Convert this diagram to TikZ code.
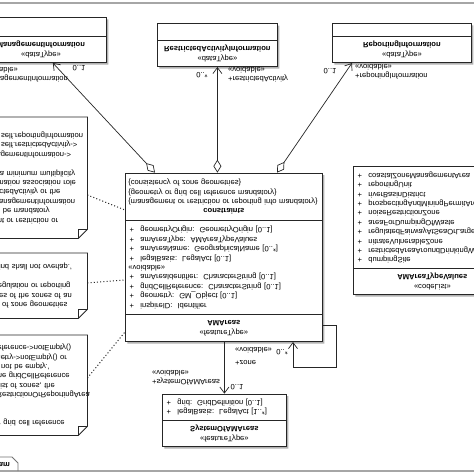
\documentclass[tikz,border=0pt]{standalone}
\usepackage{fontspec}
\setmainfont{Liberation Sans}
\usetikzlibrary{shapes.multipart,positioning,arrows.meta,calc,shadows}
\setlength{\parindent}{0pt}

\newcommand{\umlfont}{\fontsize{7.6}{9.4}\selectfont}
\newcommand{\attr}[2]{\makebox[12pt][l]{\,+}#1:\ \ #2}
\newcommand{\lit}[1]{\makebox[12pt][l]{\,+}#1}
\newcommand{\classname}[2]{{\centering #1\\\textbf{#2}\par}}
\newcommand{\umlnoteframe}[1]{%
    \draw[noteline] (#1.south west) -- (#1.south east) -- ($(#1.north east)+(0,-9)$)
        -- ($(#1.north east)+(-9,0)$) -- (#1.north west) -- cycle;
    \draw[noteline] ($(#1.north east)+(0,-9)$) -- ($(#1.north east)+(-9,-9)$) -- ($(#1.north east)+(-9,0)$);
}

\begin{document}
\begin{tikzpicture}[
    x=1pt, y=1pt, yscale=-1,
    every node/.append style={transform shape, font=\umlfont},
    classbox/.style ={
        rectangle split,
        rectangle split parts=2,
        draw=black!85,
        line width=0.8pt,
        fill=white,
        inner xsep=3pt,
        inner ysep=4.5pt,
        align=left,
        drop shadow={shadow xshift=2pt, shadow yshift=-2pt, fill=black!30, opacity=1}
    },
    notebox/.style ={
        text width=131pt,
        align=left,
        inner xsep=4pt,
        anchor=south west
    },
    noteline/.style={draw=black!85, line width=0.8pt},
    assoc/.style={draw=black!85, line width=0.7pt, -{Straight Barb[length=6pt,width=9pt]}},
    aggr/.style={assoc, {Diamond[open,length=13pt,width=8pt]}-{Straight Barb[length=6pt,width=9pt]}},
    notelink/.style={draw=black!85, line width=1pt, dash pattern=on 1pt off 2.2pt},
    rolelabel/.style={align=left, inner sep=1pt},
    mult/.style={inner sep=1pt},
    framerule/.style={draw=black!35, line width=1.2pt},
    tabline/.style={draw=black!55, line width=0.8pt}
    ]

    \useasboundingbox[fill=white] (0,0) rectangle (474,474);
    \clip (0,0) rectangle (474,474);

    % diagram frame and its name tab
    \draw[framerule] (-5,3) -- (480,3);
    \draw[framerule] (-5,471) -- (480,471);
    \draw[tabline] (-5,457) -- (12,457) -- (18,463) -- (18,471);
    \node[anchor=east, inner sep=0pt] (diagName) at (10,464) {\textbf{class Diagram}};

    % constraint notes
    \node[notebox, minimum height=121pt] (noteMgmt) at (-52,117) {%
        /* management or restriction or\\
        reporting shall be mandatory\\
        'One of the managementInformation\\
        role, the restrictedActivity or the\\
        reportingInformation association role\\
        shall have as a minimum multiplicity\\
        of 1.' */\\
        inv: self.managementInformation->\\
        notEmpty() or self.restrictedActivity->\\
        notEmpty() or self.reportingInformation};
    \umlnoteframe{noteMgmt}

    \node[notebox, minimum height=65pt] (noteZones) at (-52,253) {%
        /* consistency of zone geometries\\
        'The geometries of the zones of an\\
        AM area for regulation or reporting\\
        unit\\
        of the same kind shall not overlap.'};
    \umlnoteframe{noteZones}

    \node[notebox, minimum height=100pt] (noteGeom) at (-52,335) {%
        /* geometry or grid cell reference\\
        mandatory\\
        'If a\\
        \mbox{ManagementRestrictionOrReportingArea}\\
        does not consist of zones, the\\
        geometry or the gridCellReference\\
        attribute must not be empty.'\\
        inv: self.geometry->notEmpty() or\\
        self.gridCellReference->notEmpty()};
    \umlnoteframe{noteGeom}

    % classes
    \node[classbox, rectangle split parts=3, inner ysep=5.6pt, text width=191pt, anchor=north west] (amAreas) at (125,342) {%
        \classname{«featureType»}{AMAreas}
        \nodepart{two}
        \attr{inspireID}{Identifier}\\
        \attr{geometry}{GM\_Object [0..1]}\\
        \attr{gridCellReference}{CharacterString [0..1]}\\
        \attr{amAreaIdentifier}{CharacterString [0..1]}\\
        «voidable»\\
        \attr{legalBasis}{LegalAct [0..1]}\\
        \attr{amAreaName}{GeographicalName [0..*]}\\
        \attr{amAreaType}{AMAreaTypeValues}\\
        \attr{geometryOrigin}{GeometryOrigin [0..1]}
        \nodepart{three}
        {\centering\textbf{constraints}\par}
        \{management or restriction or reporting info mandatory\}\\
        \{geometry or grid cell reference mandatory\}\\
        \{consistency of zone geometries\}};

    \node[classbox, text width=118pt, anchor=north west] (sysAreas) at (162,447) {%
        \classname{«featureType»}{SystemOfAMAreas}
        \nodepart{two}
        \attr{legalBasis}{LegalAct [1..*]}\\
        \attr{grid}{GridDefinition [0..1]}};

    \node[classbox, text width=152pt, anchor=north west] (typeValues) at (353,295) {%
        \classname{«codeList»}{AMAreaTypeValues}
        \nodepart{two}
        \lit{dumpingSite}\\
        \lit{restrictedAreaAroundDrinkingWaterSource}\\
        \lit{nitrateVulnerableZone}\\
        \lit{regulatedFairwayAtSeaOrLargeInlandWater}\\
        \lit{areaForDumpingOfWaste}\\
        \lit{noiseRestrictionZone}\\
        \lit{prospectingAndMiningPermitArea}\\
        \lit{riverBasinDistrict}\\
        \lit{reportingUnit}\\
        \lit{coastalZoneManagementArea}};

    \node[classbox, text width=125pt, anchor=north west] (mgmtInfo) at (-25,63) {%
        \classname{«dataType»}{ManagementInformation}
        \nodepart{two}\rule{0pt}{9pt}};
    \node[classbox, text width=114pt, anchor=north west] (restrInfo) at (157,67) {%
        \classname{«dataType»}{RestrictedActivityInformation}
        \nodepart{two}\rule{0pt}{7pt}};
    \node[classbox, text width=133pt, anchor=north west] (repInfo) at (332,63) {%
        \classname{«dataType»}{ReportingInformation}
        \nodepart{two}\rule{0pt}{3pt}};

    % note links
    \draw[notelink] ($(noteMgmt.south east)+(0,78)$) -- ($(amAreas.north west)+(0,-132)$);
    \draw[notelink] ($(noteZones.south east)+(0,30)$) -- ($(amAreas.north west)+(0,-62)$);
    \draw[notelink] ($(noteGeom.south east)+(0,43)$) -- ($(amAreas.north west)+(0,-10)$);

    % associations
    \draw[aggr] ($(amAreas.south west)+(30,0)$) -- ($(mgmtInfo.north)+(12,0)$);
    \draw[aggr] (restrInfo.north |- amAreas.south) -- (restrInfo.north);
    \draw[aggr] ($(amAreas.south west)+(152,0)$) -- ($(repInfo.north west)+(20,0)$);
    \draw[assoc] (sysAreas.south |- amAreas.north) -- (sysAreas.south);
    \draw[assoc] ($(amAreas.north east)+(0,-17)$) -- ++(14,0) |- ($(amAreas.north west)+(168,25)$)
        -- ($(amAreas.north west)+(168,0)$);

    % role names and multiplicities
    \node[rolelabel, anchor=south east] (mgmtRole) at (69,66) {+managementInformation\\«voidable»};
    \node[mult] (mgmtMult) at (79,68) {0..1};
    \node[rolelabel, anchor=south west] (restrRole) at (227,66) {+restrictedActivity\\«voidable»};
    \node[mult] (restrMult) at (202,75) {0..*};
    \node[rolelabel, anchor=south west] (repRole) at (354,63) {+reportingInformation\\«voidable»};
    \node[mult] (repMult) at (330,71) {0..1};
    \node[rolelabel, anchor=south west] (sysRole) at (151,369) {+systemOfAMAreas\\«voidable»};
    \node[mult] (sysMult) at (237,387) {0..1};
    \node[rolelabel, anchor=south west] (zoneRole) at (234,346) {+zone\\[4pt]«voidable»};
    \node[mult] (zoneMult) at (282,352) {0..*};
\end{tikzpicture}
\end{document}
